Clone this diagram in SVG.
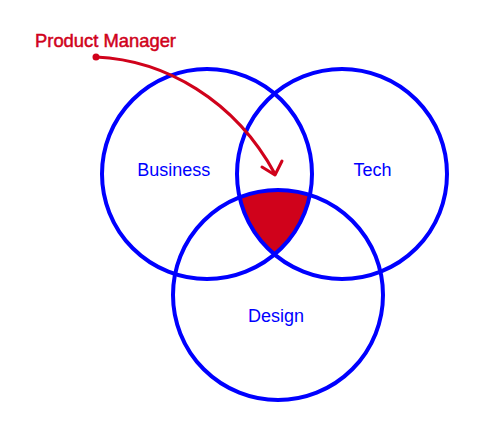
<svg xmlns="http://www.w3.org/2000/svg" width="480" height="428" viewBox="0 0 480 428">
<style>
.ring{fill:none;stroke:#0000FF;stroke-width:4}
.lbl{font-family:"Liberation Sans",Arial,sans-serif;font-size:18px;fill:#0000FF}
.pm{font-family:"Liberation Sans",Arial,sans-serif;font-size:18.5px;fill:#D0021B;stroke:#D0021B;stroke-width:0.5}
.conn{fill:none;stroke:#D0021B;stroke-width:3;stroke-linecap:round;stroke-linejoin:round}
</style>
<rect width="480" height="428" fill="#FFFFFF"/>
<g id="overlap">
<path d="M239.6 197.3 A105 105 0 0 1 309.9 195.0 A105 105 0 0 1 274.5 254.4 A105 105 0 0 1 239.6 197.3 Z" fill="#D0021B"/>
</g>
<g id="business">
<circle class="ring" cx="207" cy="174" r="105"/>
<text class="lbl" x="173.7" y="176" text-anchor="middle">Business</text>
</g>
<g id="tech">
<circle class="ring" cx="342" cy="174" r="105"/>
<text class="lbl" x="372.5" y="176" text-anchor="middle">Tech</text>
</g>
<g id="design">
<circle class="ring" cx="278" cy="295" r="105"/>
<text class="lbl" x="276" y="322" text-anchor="middle">Design</text>
</g>
<g id="product-manager">
<text class="pm" x="35" y="46.7" textLength="141" lengthAdjust="spacingAndGlyphs">Product Manager</text>
</g>
<g id="connectors">
<circle cx="96" cy="57" r="3.5" fill="#D0021B"/>
<path class="conn" d="M96 57 C165 60 235 100 275 174"/>
<polyline class="conn" points="262,167 275,175 282,161"/>
</g>
</svg>
